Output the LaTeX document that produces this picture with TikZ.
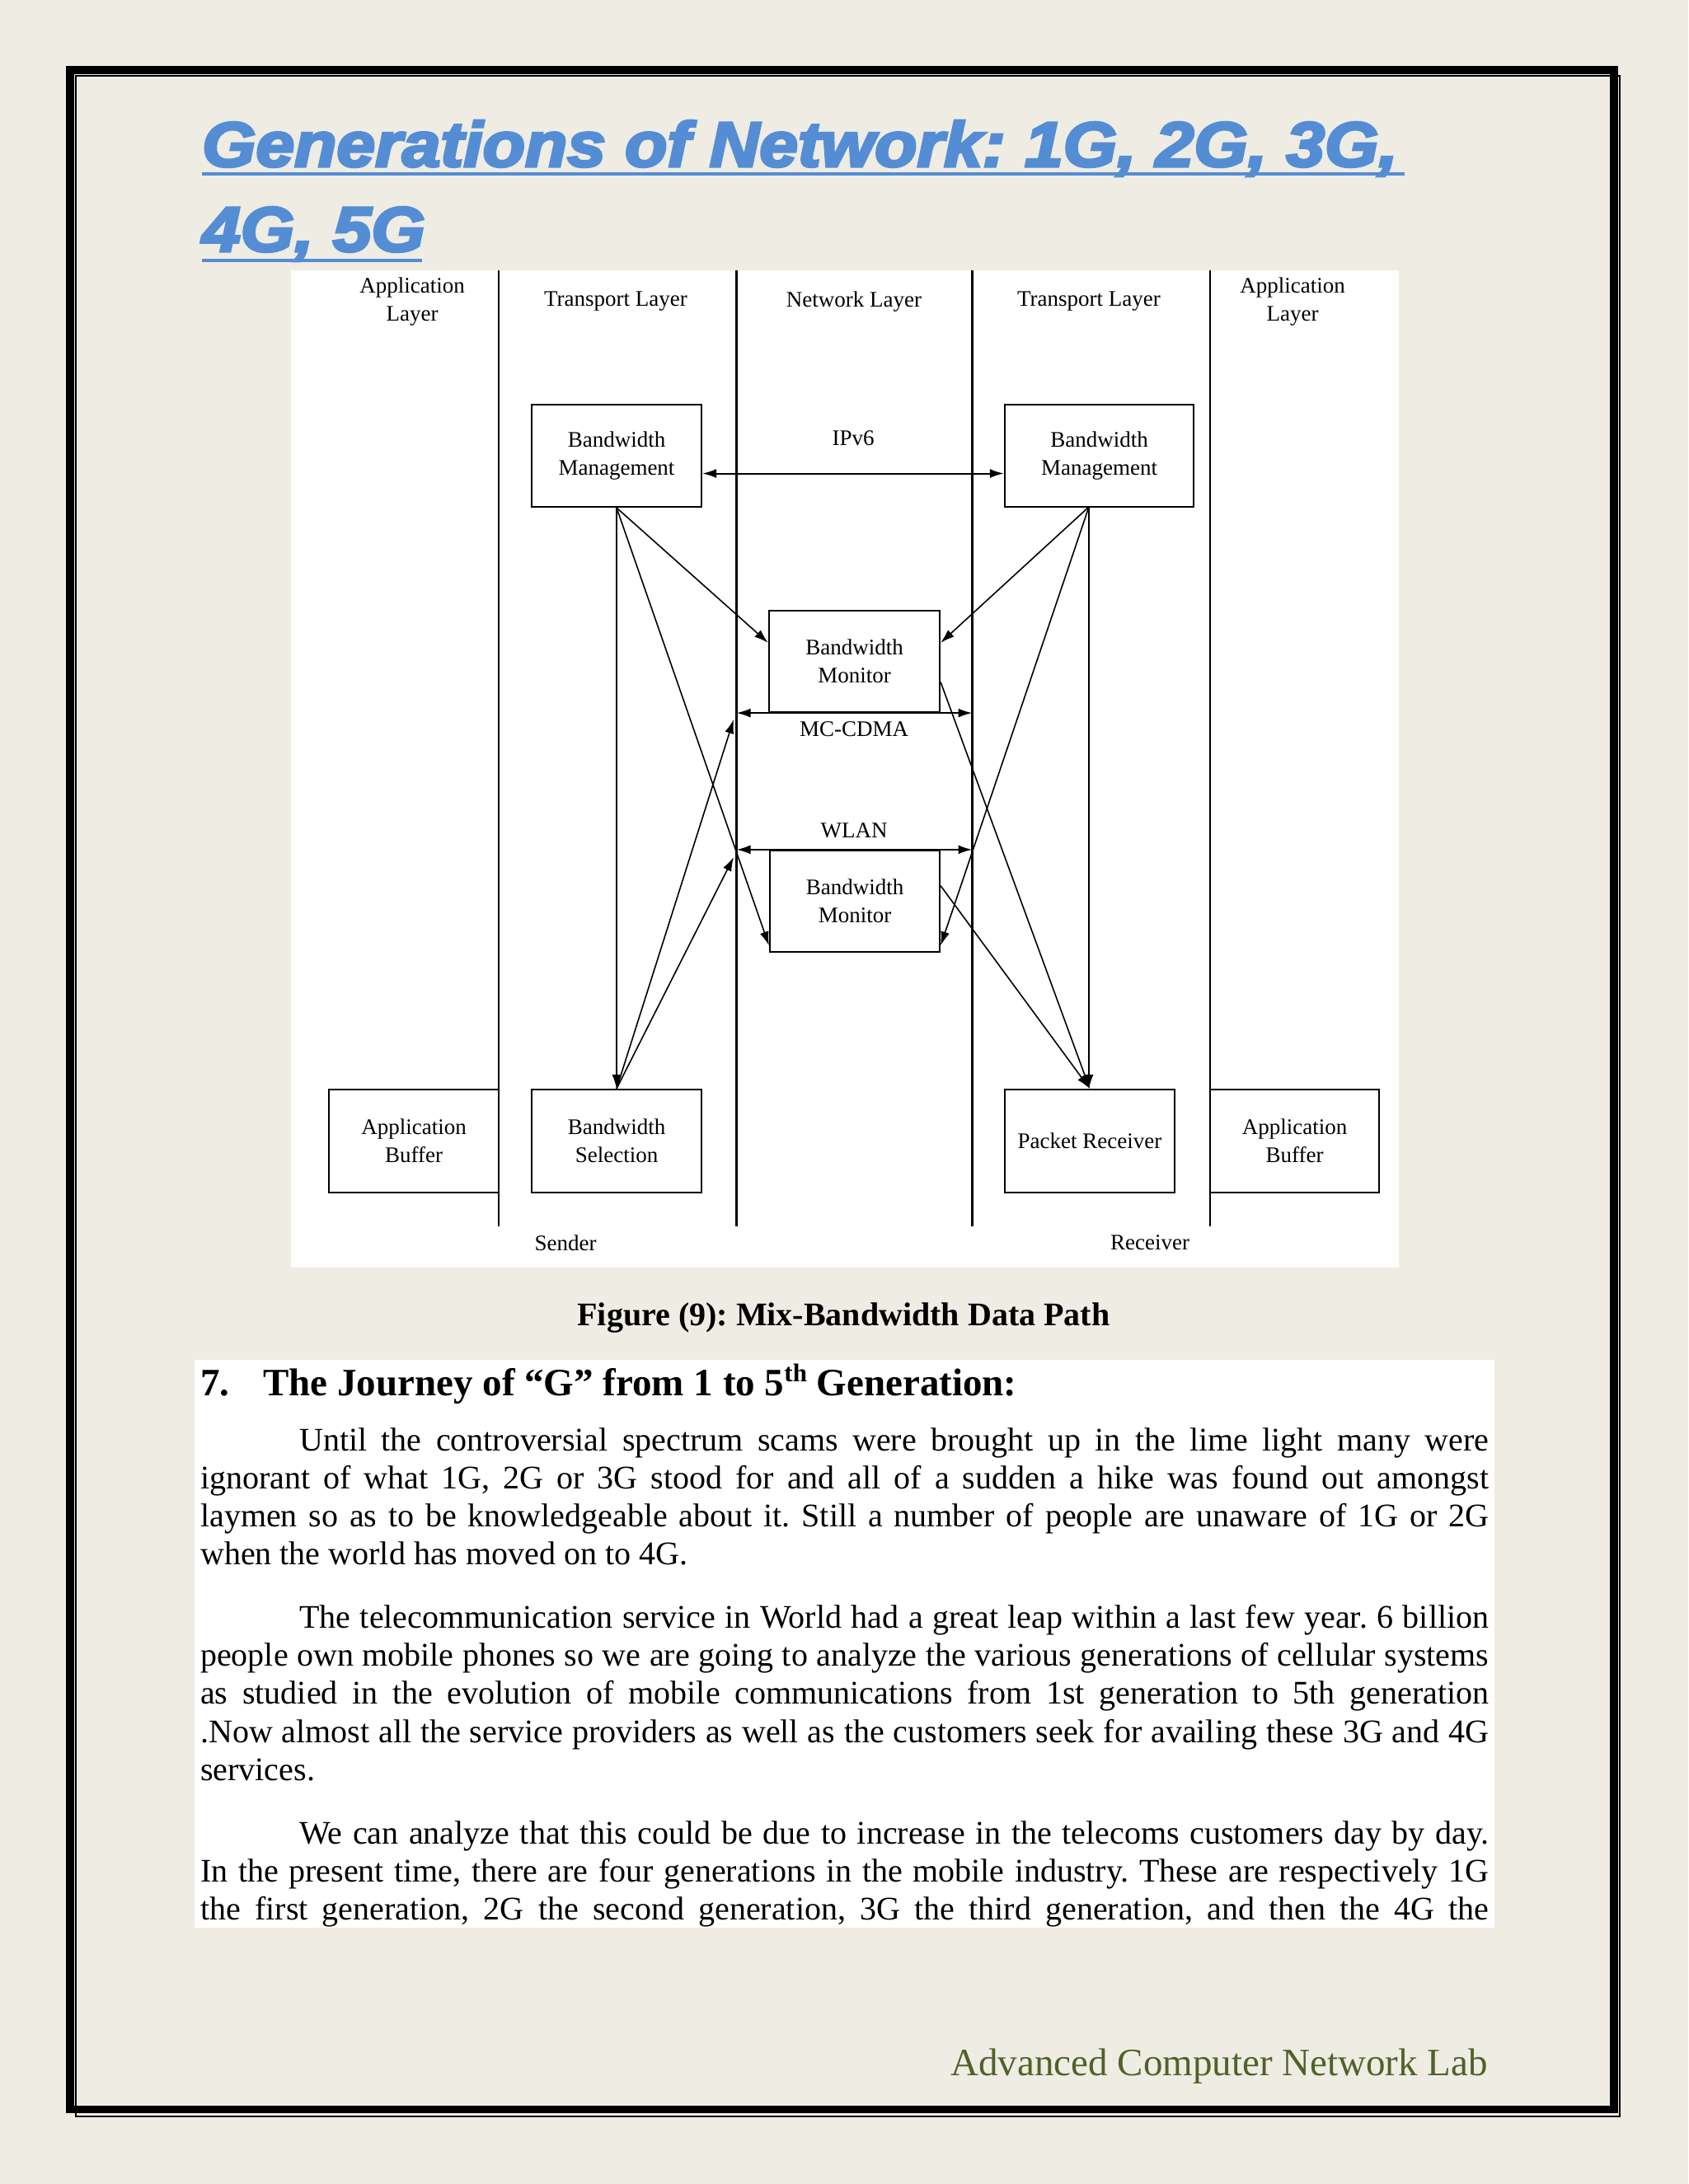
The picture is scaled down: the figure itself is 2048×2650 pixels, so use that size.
\documentclass[tikz,border=0pt]{standalone}
\usepackage{fontspec}
\usepackage{graphicx}
\setmainfont{Liberation Serif}
\newfontfamily\titlefont[BoldItalicFeatures={FakeBold=4}]{Liberation Sans}
\usetikzlibrary{arrows.meta,calc}
\definecolor{pagebg}{RGB}{238,236,227}
\definecolor{titleblue}{RGB}{84,141,212}
\definecolor{olivegreen}{RGB}{79,98,40}
\frenchspacing
\begin{document}
\frenchspacing
\begin{tikzpicture}[x=1pt,y=-1pt,
  lbl/.style={inner sep=0, font=\fontsize{27}{34}\selectfont, align=center},
  box/.style={draw, line width=2.2pt, inner sep=0, font=\fontsize{27}{34}\selectfont, align=center},
  lane/.style={line width=2.2pt},
  arr/.style={line width=1.6pt, -{Latex[length=17pt,width=11pt]}},
  darr/.style={line width=2pt, {Latex[length=17pt,width=11pt]}-{Latex[length=17pt,width=11pt]}},
  body/.style={anchor=base west, inner sep=0, font=\frenchspacing\fontsize{40}{46}\selectfont},
  ttl/.style={anchor=base west, inner sep=0, text=titleblue, font=\titlefont\bfseries\itshape\fontsize{77}{90}\selectfont}
]
\useasboundingbox (0,0) rectangle (2048,2650);
\fill[pagebg] (0,0) rectangle (2048,2650);

% page border
\draw[line width=9.5pt] (84.75,84.75) rectangle (1958,2559.5);
\draw[line width=2pt] (92,92) rectangle (1965,2568);

% title
\node[ttl] (t1) at (245,202) {\scalebox{1.09}[1]{Generations of Network: 1G, 2G, 3G,}};
\node[ttl] (t2) at (245,305) {\scalebox{1.09}[1]{4G, 5G}};
\fill[titleblue] (245,209) rectangle (1704,213);
\fill[titleblue] (245,314) rectangle (512,318);

% diagram background
\fill[white] (353,328) rectangle (1697,1538);

% lanes
\coordinate (l1) at (605,328);   \coordinate (l1b) at (605,1488);
\coordinate (l2) at (893.5,328); \coordinate (l2b) at (893.5,1488);
\coordinate (l3) at (1179.5,328);\coordinate (l3b) at (1179.5,1488);
\coordinate (l4) at (1468,328);  \coordinate (l4b) at (1468,1488);
\draw[lane] (l1) -- (l1b);
\draw[lane] (l2) -- (l2b);
\draw[lane] (l3) -- (l3b);
\draw[lane] (l4) -- (l4b);

% lane labels
\node[lbl] (la1) at (500,366.5) {Application\\Layer};
\node[lbl] (la2) at (747,366) {Transport Layer};
\node[lbl] (la3) at (1036,366) {Network Layer};
\node[lbl] (la4) at (1321,366) {Transport Layer};
\node[lbl] (la5) at (1568,366.5) {Application\\Layer};

% boxes
\node[box, minimum width=206pt, minimum height=124pt] (bmL) at (748,553) {Bandwidth\\Management};
\node[box, minimum width=229pt, minimum height=124pt] (bmR) at (1333.5,553) {Bandwidth\\Management};
\node[box, minimum width=207pt, minimum height=123pt] (monT) at (1036.5,802.5) {Bandwidth\\Monitor};
\node[box, minimum width=206pt, minimum height=123pt] (monB) at (1037,1093.5) {Bandwidth\\Monitor};
\node[box, minimum width=206pt, minimum height=125pt] (abL) at (502,1384.5) {Application\\Buffer};
\node[box, minimum width=206pt, minimum height=125pt] (bs) at (748,1384.5) {Bandwidth\\Selection};
\node[box, minimum width=206pt, minimum height=125pt] (pr) at (1322,1384.5) {Packet Receiver};
\node[box, minimum width=205pt, minimum height=125pt] (abR) at (1570.5,1384.5) {Application\\Buffer};

% link labels
\node[lbl] (ipv6) at (1035,532) {IPv6};
\node[lbl] (mc) at (1036,885) {MC-CDMA};
\node[lbl] (wl) at (1036,1008) {WLAN};
\node[lbl] (snd) at (686,1508) {Sender};
\node[lbl] (rcv) at (1395,1508) {Receiver};

% connectors
\draw[darr] ([yshift=-21.5pt]bmL.east) -- ([yshift=-21.5pt]bmR.west);
\draw[darr] (l2 |- monT.south) -- (l3 |- monT.south);
\draw[darr] (l2 |- monB.north) -- (l3 |- monB.north);

\coordinate (mcTip) at (890,873);
\coordinate (wlTip) at (890,1040);
\coordinate (bmRo) at (1321,615);

\draw[arr] (bmL.south) -- (bs.north);
\draw[arr] (bmL.south) -- ($(monT.north west)!0.32!(monT.south west)$);
\draw[arr] (bmL.south) -- ($(monB.north west)!0.93!(monB.south west)$);
\draw[arr] (bs.north) -- (mcTip);
\draw[arr] (bs.north) -- (wlTip);

\draw[arr] (bmRo) -- (bmRo |- pr.north);
\draw[arr] (bmRo) -- ($(monT.north east)!0.32!(monT.south east)$);
\draw[arr] (bmRo) -- ($(monB.north east)!0.93!(monB.south east)$);
\draw[arr] ($(monT.north east)!0.70!(monT.south east)$) -- (pr.north);
\draw[arr] ($(monB.north east)!0.35!(monB.south east)$) -- (pr.north);

% caption
\node[anchor=base, inner sep=0, font=\bfseries\fontsize{40}{46}\selectfont] (cap) at (1023.5,1608) {Figure (9): Mix-Bandwidth Data Path};

% text area
\fill[white] (236,1650) rectangle (1813,2339);
\node[anchor=base west, inner sep=0, font=\bfseries\fontsize{47}{54}\selectfont] (h7) at (243,1693) {7.};
\node[anchor=base west, inner sep=0, font=\bfseries\fontsize{47}{54}\selectfont] (h) at (319,1693) {The Journey of “G” from 1 to 5\raisebox{17pt}{\fontsize{31}{31}\selectfont th} Generation:};

\node[body] (p1a) at (363,1760) {\makebox[1443pt][s]{Until the controversial spectrum scams were brought up in the lime light many were}};
\node[body] (p1b) at (243,1806) {\makebox[1563pt][s]{ignorant of what 1G, 2G or 3G stood for and all of a sudden a hike was found out amongst}};
\node[body] (p1c) at (243,1852) {\makebox[1563pt][s]{laymen so as to be knowledgeable about it. Still a number of people are unaware of 1G or 2G}};
\node[body] (p1d) at (243,1898) {when the world has moved on to 4G.};

\node[body] (p2a) at (363,1975) {\makebox[1443pt][s]{The telecommunication service in World had a great leap within a last few year. 6 billion}};
\node[body] (p2b) at (243,2021) {\makebox[1563pt][s]{people own mobile phones so we are going to analyze the various generations of cellular systems}};
\node[body] (p2c) at (243,2067) {\makebox[1563pt][s]{as studied in the evolution of mobile communications from 1st generation to 5th generation}};
\node[body] (p2d) at (243,2114) {\makebox[1563pt][s]{.Now almost all the service providers as well as the customers seek for availing these 3G and 4G}};
\node[body] (p2e) at (243,2160) {services.};

\node[body] (p3a) at (363,2237) {\makebox[1443pt][s]{We can analyze that this could be due to increase in the telecoms customers day by day.}};
\node[body] (p3b) at (243,2283) {\makebox[1563pt][s]{In the present time, there are four generations in the mobile industry. These are respectively 1G}};
\node[body] (p3c) at (243,2329) {\makebox[1563pt][s]{the first generation, 2G the second generation, 3G the third generation, and then the 4G the}};

% footer
\node[anchor=base east, inner sep=0, text=olivegreen, font=\fontsize{47}{56}\selectfont] (foot) at (1805,2518) {Advanced Computer Network Lab};
\end{tikzpicture}
\end{document}
